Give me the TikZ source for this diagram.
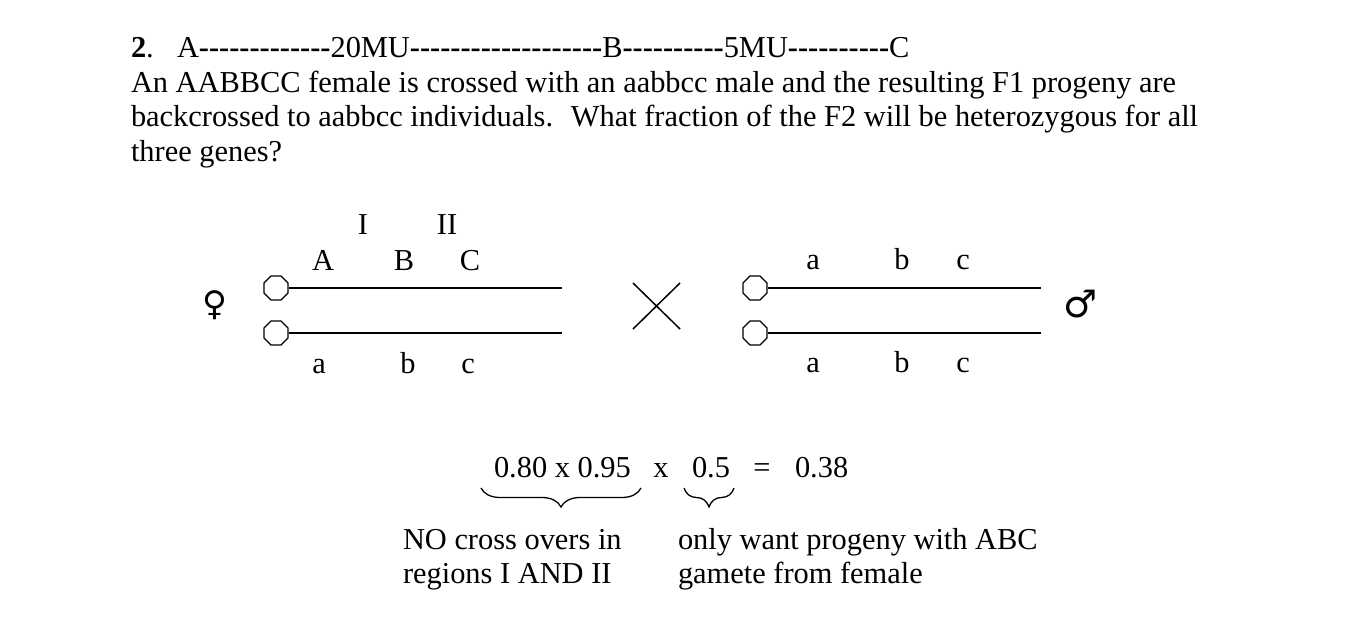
\documentclass[tikz,border=0pt]{standalone}
\usepackage{fontspec}
\newfontfamily\tnr{Liberation Serif}
\newfontfamily\dvs{DejaVu Sans}
\usetikzlibrary{shapes.geometric,decorations.pathreplacing}
\tikzset{
  txt/.style={inner sep=0pt, outer sep=0pt, font=\tnr\fontsize{30.4}{34.6}\selectfont, anchor=base west},
  lbl/.style={inner sep=0pt, outer sep=0pt, font=\tnr\fontsize{30.4}{34.6}\selectfont, anchor=base},
  sym/.style={inner sep=0pt, outer sep=0pt, font=\dvs\fontsize{34}{40}\selectfont},
  cent/.style={regular polygon, regular polygon sides=8, draw, line width=1.2pt, minimum size=26pt, inner sep=0pt},
  chrom/.style={line width=2pt},
  crossmark/.style={line width=1.5pt},
  brc/.style={line width=1.3pt, decorate, decoration={brace, mirror, amplitude=19pt}}
}
\begin{document}
\begin{tikzpicture}[x=1pt,y=-1pt]
\useasboundingbox[fill=white] (0,0) rectangle (1366,627);
% heading
\node[txt] (num) at (131,57) {\textbf{2}.};
\node[txt] (map) at (177,57) {A\textbf{-------------}20MU\textbf{-------------------}B\textbf{----------}5MU\textbf{----------}C};
\node[txt] (l2) at (131,92) {An AABBCC female is crossed with an aabbcc male and the resulting F1 progeny are};
\node[txt] (l3) at (131,126.5) {backcrossed to aabbcc individuals.\hspace{0.25em} What fraction of the F2 will be heterozygous for all};
\node[txt] (l4) at (131,161) {three genes?};
% female
\node[sym] (fem) at (215,305) {♀};
\node[cent] (fc1) at (276,288) {};
\node[cent] (fc2) at (276,333) {};
\coordinate (fe1) at (562,288);
\coordinate (fe2) at (562,333);
\draw[chrom] (fc1.east) -- (fe1);
\draw[chrom] (fc2.east) -- (fe2);
\node[lbl] (rI) at (363,234) {I};
\node[lbl] (rII) at (447,234) {II};
\node[lbl] (fA) at (323,270) {A};
\node[lbl] (fB) at (404,270) {B};
\node[lbl] (fC) at (470,270) {C};
\node[lbl] (fa) at (319,373) {a};
\node[lbl] (fb) at (408,373) {b};
\node[lbl] (fc) at (468,373) {c};
% cross
\coordinate (x1) at (633,283);
\coordinate (x2) at (680,329);
\coordinate (x3) at (633,329);
\coordinate (x4) at (680,283);
\draw[crossmark] (x1) -- (x2);
\draw[crossmark] (x3) -- (x4);
% male
\node[cent] (mc1) at (755,288) {};
\node[cent] (mc2) at (755,333) {};
\coordinate (me1) at (1041,288);
\coordinate (me2) at (1041,333);
\draw[chrom] (mc1.east) -- (me1);
\draw[chrom] (mc2.east) -- (me2);
\node[lbl] (ma1) at (813,269) {a};
\node[lbl] (mb1) at (902,269) {b};
\node[lbl] (mcc1) at (963,269) {c};
\node[lbl] (ma2) at (813,372) {a};
\node[lbl] (mb2) at (902,372) {b};
\node[lbl] (mcc2) at (963,372) {c};
\node[sym, font=\dvs\fontsize{38}{44}\selectfont] (mal) at (1081,304) {♂};
% calculation
\node[txt] (p1) at (494,477) {0.80 x 0.95};
\node[lbl] (tx) at (661,477) {x};
\node[txt] (p2) at (692,477) {0.5};
\node[lbl] (eq) at (762,477) {=};
\node[txt] (res) at (795,477) {0.38};
\coordinate (b1s) at (481,488);
\coordinate (b1e) at (641,488);
\coordinate (b2s) at (684,488);
\coordinate (b2e) at (734,488);
\draw[brc] (b1s) -- (b1e);
\draw[brc] (b2s) -- (b2e);
\node[txt] (e1) at (403,549) {NO cross overs in};
\node[txt] (e2) at (403,583) {regions I AND II};
\node[txt] (e3) at (678,549) {only want progeny with ABC};
\node[txt] (e4) at (678,583) {gamete from female};
\end{tikzpicture}
\end{document}
